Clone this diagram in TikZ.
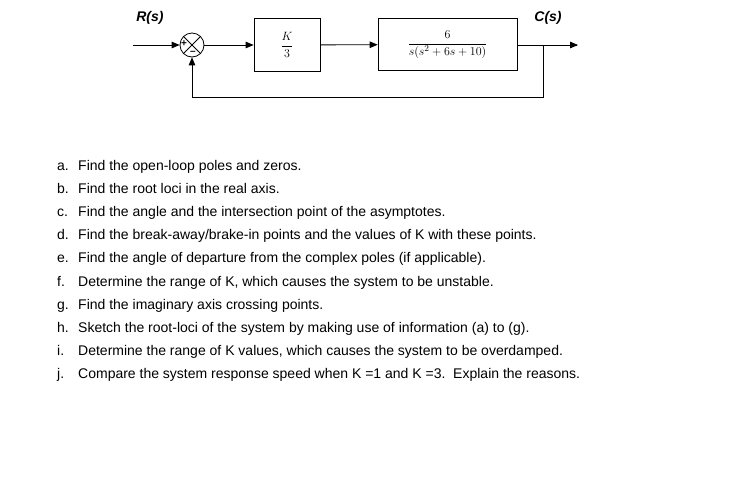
\documentclass[tikz,border=0pt]{standalone}
\usepackage{amsmath}
\usepackage{fontspec}
\setmainfont{Liberation Sans}
\usetikzlibrary{arrows,positioning}
\begin{document}
\begin{tikzpicture}[x=1pt,y=-1pt,>=triangle 45,
  block/.style={draw,thick,rectangle,inner sep=0pt,font=\fontsize{13}{15}\selectfont},
  item/.style={anchor=base west,font=\fontsize{14}{16}\selectfont,inner sep=0pt}]
\useasboundingbox (0,0) rectangle (748,493);
% block diagram
\node[draw,thick,circle,minimum size=24pt,inner sep=0pt] (sum) at (192,45) {};
\draw[thick] (sum.north west) -- (sum.south east) (sum.north east) -- (sum.south west);
\node[font=\bfseries,inner sep=0pt] at (184,44) {+};
\node[font=\bfseries,inner sep=0pt] at (193,53) {--};
\node[block,minimum width=66pt,minimum height=53pt] (gain) at (287,45) {$\dfrac{K}{3}$};
\node[block,minimum width=139pt,minimum height=52pt] (plant) at (447.5,44.5) {$\dfrac{6}{s(s^2+6s+10)}$};
\coordinate (in) at (133,45);
\coordinate (out) at (578,45);
\coordinate (tap) at (543,45);
\coordinate (low) at (543,97);
\draw[thick,->] (in) -- (sum);
\draw[thick,->] (sum) -- (gain);
\draw[thick,->] (gain) -- (plant);
\draw[thick,->] (plant.east |- out) -- (out);
\draw[thick,->] (tap) -- (low) -| (sum.south);
\node[font=\bfseries\itshape\fontsize{14}{16}\selectfont] at (150,18) {R(s)};
\node[font=\bfseries\itshape\fontsize{14}{16}\selectfont] at (548,18) {C(s)};
% questions
\foreach \l/\t [count=\i] in {
  a./Find the open-loop poles and zeros.,
  b./Find the root loci in the real axis.,
  c./Find the angle and the intersection point of the asymptotes.,
  d./{Find the break-away/brake-in points and the values of K with these points.},
  e./Find the angle of departure from the complex poles (if applicable).,
  f./Determine the range of K{,} which causes the system to be unstable.,
  g./Find the imaginary axis crossing points.,
  h./Sketch the root-loci of the system by making use of information (a) to (g).,
  i./Determine the range of K values{,} which causes the system to be overdamped.,
  j./Compare the system response speed when K =1 and K =3.\ \ Explain the reasons.}
{
  \node[item] (l\i) at (57,170+23.2*\i-23.2) {\l};
  \node[item] (t\i) at (78,170+23.2*\i-23.2) {\t};
}
\end{tikzpicture}
\end{document}
